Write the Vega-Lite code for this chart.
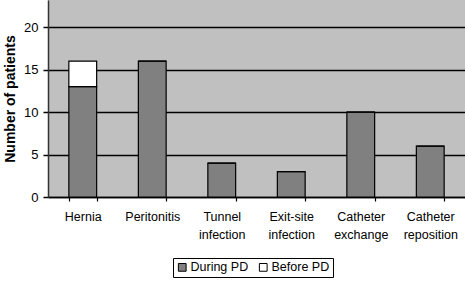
{
  "$schema": "https://vega.github.io/schema/vega-lite/v6.json",
  "autosize": "none",
  "width": 417,
  "height": 197,
  "padding": {"left": 48, "top": 0, "right": 0, "bottom": 84},
  "background": "white",
  "config": {
    "font": "Liberation Sans",
    "view": {"fill": "#c0c0c0", "stroke": null}
  },
  "data": {
    "values": [
      {"complication": "Hernia", "status": "During PD", "patients": 13},
      {"complication": "Hernia", "status": "Before PD", "patients": 3},
      {"complication": "Peritonitis", "status": "During PD", "patients": 16},
      {"complication": "Peritonitis", "status": "Before PD", "patients": 0},
      {"complication": "Tunnel infection", "status": "During PD", "patients": 4},
      {"complication": "Tunnel infection", "status": "Before PD", "patients": 0},
      {"complication": "Exit-site infection", "status": "During PD", "patients": 3},
      {"complication": "Exit-site infection", "status": "Before PD", "patients": 0},
      {"complication": "Catheter exchange", "status": "During PD", "patients": 10},
      {"complication": "Catheter exchange", "status": "Before PD", "patients": 0},
      {"complication": "Catheter reposition", "status": "During PD", "patients": 6},
      {"complication": "Catheter reposition", "status": "Before PD", "patients": 0}
    ]
  },
  "mark": {"type": "bar", "stroke": "black", "strokeWidth": 1.2},
  "encoding": {
    "x": {
      "field": "complication",
      "type": "nominal",
      "sort": null,
      "scale": {"paddingInner": 0.6, "paddingOuter": 0.3},
      "axis": {
        "title": null,
        "labelAngle": 0,
        "labelExpr": "split(datum.label, ' ')",
        "labelFontSize": 12.5,
        "labelLineHeight": 18,
        "labelColor": "black",
        "labelPadding": 9,
        "domainColor": "black",
        "domainWidth": 1.5,
        "tickColor": "black",
        "tickWidth": 1.2,
        "tickSize": 4,
        "tickBand": "extent"
      }
    },
    "y": {
      "field": "patients",
      "type": "quantitative",
      "stack": "zero",
      "scale": {"domain": [0, 23.2], "nice": false},
      "axis": {
        "title": "Number of patients",
        "titleFontSize": 14,
        "titleFontWeight": "bold",
        "titleColor": "black",
        "titlePadding": 6,
        "values": [0, 5, 10, 15, 20],
        "labelFontSize": 13,
        "labelColor": "black",
        "labelPadding": 5,
        "grid": true,
        "gridColor": "black",
        "gridWidth": 1.5,
        "gridOpacity": 1,
        "domainColor": "#333333",
        "domainWidth": 1.5,
        "tickColor": "black",
        "tickWidth": 1.5,
        "tickSize": 5
      }
    },
    "color": {
      "field": "status",
      "type": "nominal",
      "scale": {"domain": ["During PD", "Before PD"], "range": ["#808080", "#ffffff"]},
      "legend": {
        "title": null,
        "orient": "none",
        "direction": "horizontal",
        "legendX": 125,
        "legendY": 258,
        "symbolType": "square",
        "symbolSize": 60,
        "symbolStrokeColor": "black",
        "symbolStrokeWidth": 1,
        "symbolOpacity": 1,
        "labelFontSize": 12.5,
        "labelColor": "black",
        "labelOffset": 2,
        "columnPadding": 8,
        "strokeColor": "black",
        "fillColor": "white",
        "padding": 3
      }
    },
    "order": {"field": "status", "sort": "descending"}
  }
}
